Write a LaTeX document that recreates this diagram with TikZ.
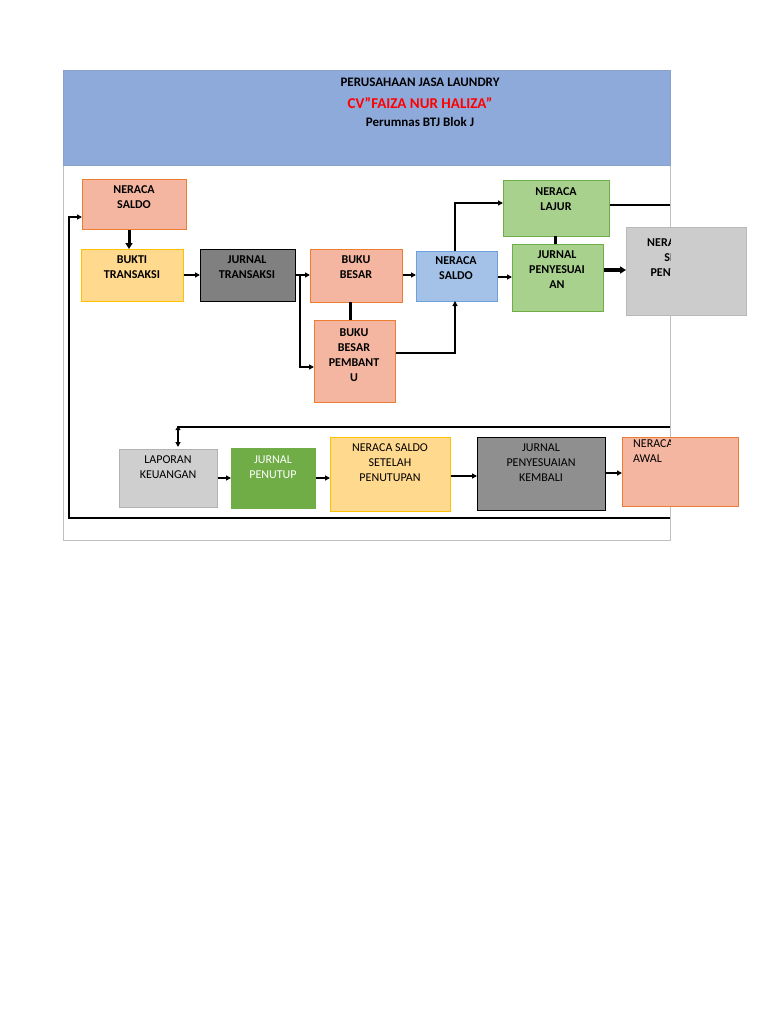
\documentclass[tikz,border=0pt]{standalone}
\usepackage{fontspec}
\setmainfont{Carlito}
\usetikzlibrary{arrows.meta}
\definecolor{hdr}{HTML}{8EAADB}
\definecolor{salm}{HTML}{F4B6A0}
\definecolor{salmb}{HTML}{ED7D31}
\definecolor{yel}{HTML}{FFD98E}
\definecolor{yelb}{HTML}{FFC000}
\definecolor{grn}{HTML}{A9D18E}
\definecolor{grnb}{HTML}{70AD47}
\definecolor{blu}{HTML}{A4C2E8}
\definecolor{blub}{HTML}{6FA0DC}
\begin{document}
\begin{tikzpicture}[x=1pt,y=-1pt,
  box/.style={draw,line width=0.8pt,align=center,font=\fontsize{12}{15}\selectfont\bfseries,anchor=north west,inner sep=0pt},
  lab/.style={align=center,font=\fontsize{12}{15}\selectfont\bfseries,inner sep=0pt},
  ar/.style={-{Triangle[length=5pt,width=5pt]},line width=1.3pt},
  tk/.style={-{Triangle[length=6pt,width=7pt]},line width=3pt},
  ln/.style={line width=1.3pt}]
\useasboundingbox (0,0) rectangle (768,1024);
% header and frame
\draw[gray!50,line width=0.8pt] (63,165) rectangle (670,540);
\node[fill=hdr,draw=hdr!80!gray,minimum width=607pt,minimum height=95pt,anchor=north west,inner sep=0pt] (hdr) at (63,70) {};
\node[font=\fontsize{13}{15}\selectfont\bfseries] (t1) at (420,82) {PERUSAHAAN JASA LAUNDRY};
\node[font=\fontsize{15}{17}\selectfont\bfseries,text=red] (t2) at (420,103) {CV"FAIZA NUR HALIZA"};
\node[font=\fontsize{13}{15}\selectfont\bfseries] (t3) at (420,122) {Perumnas BTJ Blok J};
% boxes
\node[box,fill=salm,draw=salmb,minimum width=104pt,minimum height=50pt] (ns1) at (82,179) {};
\node[lab] at (134,197) {NERACA\\SALDO};
\node[box,fill=yel,draw=yelb,minimum width=102pt,minimum height=52pt] (bt) at (81,249) {};
\node[lab] at (132,267) {BUKTI\\TRANSAKSI};
\node[box,fill=gray,draw=black,minimum width=95pt,minimum height=52pt] (jt) at (200,249) {};
\node[lab] at (247,267) {JURNAL\\TRANSAKSI};
\node[box,fill=salm,draw=salmb,minimum width=92pt,minimum height=53pt] (bb) at (310,249) {};
\node[lab] at (356,267) {BUKU\\BESAR};
\node[box,fill=salm,draw=salmb,minimum width=81pt,minimum height=82pt] (bbp) at (314,320) {};
\node[lab] at (354,355) {BUKU\\BESAR\\PEMBANT\\U};
\node[box,fill=blu,draw=blub,minimum width=81pt,minimum height=50pt] (ns2) at (416,251) {};
\node[lab] at (456,268) {NERACA\\SALDO};
\node[box,fill=grn,draw=grnb,minimum width=106pt,minimum height=56pt] (nl) at (503,180) {};
\node[lab] at (556,199) {NERACA\\LAJUR};
\node[box,fill=grn,draw=grnb,minimum width=91pt,minimum height=67pt] (jp) at (512,244) {};
\node[lab] at (557,270) {JURNAL\\PENYESUAI\\AN};
\node[box,fill=gray!40,draw=gray!55,minimum width=120pt,minimum height=88pt] (nssp) at (626,227) {};
\node[box,fill=gray!38,draw=gray!60,minimum width=98pt,minimum height=58pt] (lk) at (119,449) {};
\node[lab,font=\fontsize{12}{15}\selectfont] at (168,467) {LAPORAN\\KEUANGAN};
\node[box,fill=grnb,draw=grnb,minimum width=84pt,minimum height=60pt] (jpn) at (231,448) {};
\node[lab,font=\fontsize{12}{15}\selectfont,text=white] at (273,467) {JURNAL\\PENUTUP};
\node[box,fill=yel,draw=yelb,minimum width=120pt,minimum height=74pt] (nsp) at (330,437) {};
\node[lab,font=\fontsize{12}{15}\selectfont] at (390,463) {NERACA SALDO\\SETELAH\\PENUTUPAN};
\node[box,fill=gray!88,draw=black,line width=1.2pt,minimum width=128pt,minimum height=73pt] (jpk) at (477,437) {};
\node[lab,font=\fontsize{12}{15}\selectfont] at (541,463) {JURNAL\\PENYESUAIAN\\KEMBALI};
\node[box,fill=salm,draw=salmb,minimum width=116pt,minimum height=69pt] (na) at (622,437) {};
\begin{scope}
\clip (0,0) rectangle (670,1024);
\node[lab] at (686,258) {NERACA SALDO\\SETELAH\\PENYESUAIAN};
\node[lab,font=\fontsize{12}{15}\selectfont,align=left,anchor=north west] at (633,440) {NERACA SALDO\\AWAL};
\end{scope}
% white cover beyond frame on right for lines
% connectors
\draw[tk] (ns1.south -| 129,0) -- (129,249);
\draw[ar,line width=2pt] (bt.east |- 0,275) -- (jt.west |- 0,275);
\draw[ar,line width=2pt] (jt.east |- 0,275) -- (bb.west |- 0,275);
\draw[ar] (300,275) -- (300,367) -- (bbp.west |- 0,367);
\draw[line width=3pt] (350,302) -- (350,320);
\draw[ar,line width=2pt] (bb.east |- 0,275) -- (ns2.west |- 0,275);
\draw[ar] (455,251) -- (455,203) -- (nl.west |- 0,203);
\draw[ar] (bbp.east |- 0,353) -- (455,353) -- (455,301);
\draw[ar,line width=2pt] (ns2.east |- 0,277) -- (jp.west |- 0,277);
\draw[line width=3pt] (555,236) -- (555,244);
\draw[tk,line width=4pt] (jp.east |- 0,270) -- (nssp.west |- 0,270);
\draw[ln] (nl.east |- 0,205) -- (670,205);
\coordinate (r1) at (670,427);
\draw[ln,-{Triangle[length=5pt,width=5pt]}] (r1) -- (178,427) -- (178,447);
\draw[ln,-{Triangle[length=4pt,width=5pt]}] (178,440) -- (178,426);
\draw[ar,line width=2pt] (lk.east |- 0,478) -- (jpn.west |- 0,478);
\draw[ar,line width=2.5pt] (jpn.east |- 0,478) -- (nsp.west |- 0,478);
\draw[ar,line width=2.5pt] (nsp.east |- 0,476) -- (jpk.west |- 0,476);
\draw[ar,line width=2.5pt] (jpk.east |- 0,473) -- (na.west |- 0,473);
\coordinate (r2) at (670,518);
\draw[ar] (r2) -- (69,518) -- (69,217) -- (ns1.west |- 0,217);
\end{tikzpicture}
\end{document}
